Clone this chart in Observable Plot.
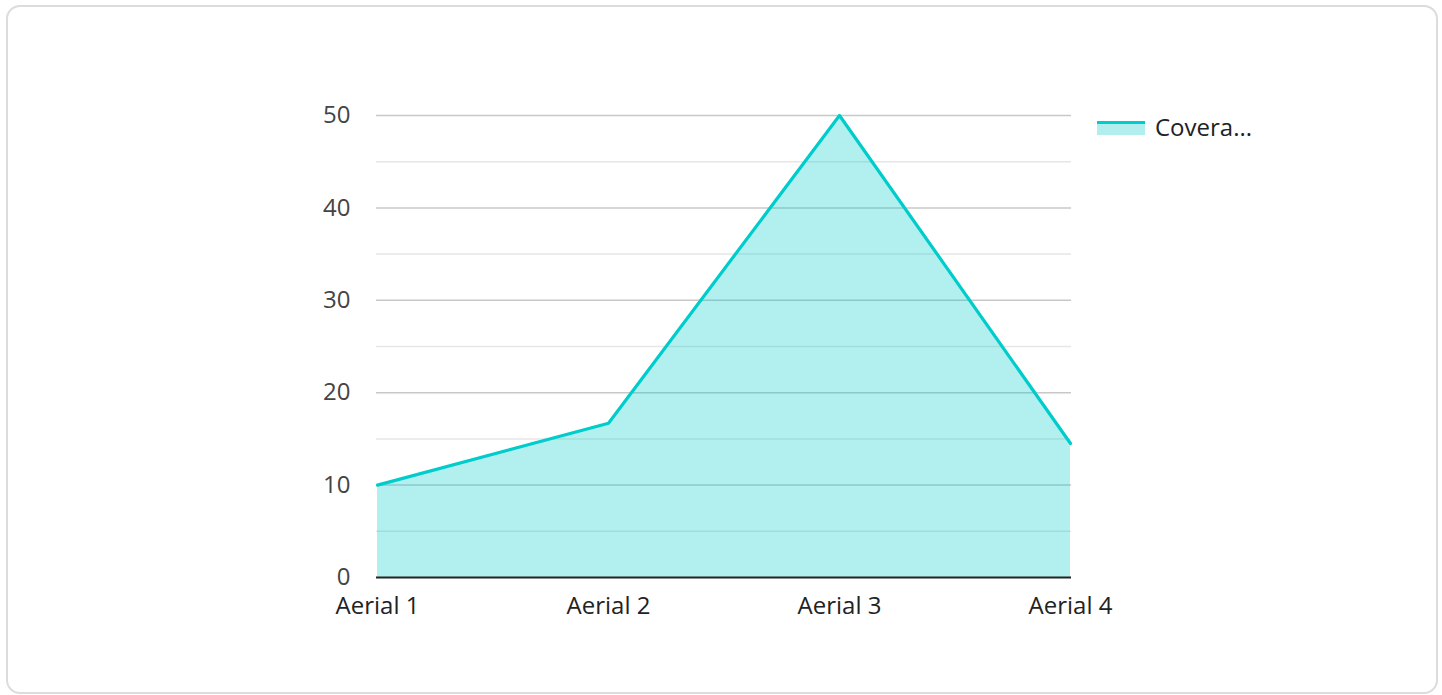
<!DOCTYPE html>
<html>
<head>
<meta charset="utf-8">
<script src="https://cdn.jsdelivr.net/npm/d3@7"></script>
<script src="https://cdn.jsdelivr.net/npm/@observablehq/plot@0.6"></script>
<style>
  html, body { margin: 0; padding: 0; background: #fff; width: 1442px; height: 695px; overflow: hidden; font-family: "Open Sans", sans-serif; }
  #card { position: absolute; left: 6px; top: 5px; width: 1428px; height: 685px; border: 2px solid #dcdcdc; border-radius: 14px; box-sizing: content-box; }
  #chart { position: absolute; left: 0; top: 0; }
  #legend { position: absolute; left: 1097px; top: 110px; display: flex; align-items: center; font-size: 24px; color: #222; }
  #legend .sw { width: 48px; height: 14px; position: relative; margin-right: 10px; margin-top: 2px; }
  #legend .sw .ln { position: absolute; left: 0; top: 0; width: 48px; height: 3px; background: #00cccc; }
  #legend .sw .fl { position: absolute; left: 0; top: 3px; width: 48px; height: 11px; background: #b2eeee; }
</style>
</head>
<body>
<div id="card"></div>
<div id="chart"></div>
<div id="legend"><div class="sw"><div class="ln"></div><div class="fl"></div></div><span>Covera...</span></div>
<script>
const categories = ["Aerial 1", "Aerial 2", "Aerial 3", "Aerial 4"];
const coverage = [10, 16.7, 50, 14.5];
const majorTicks = [0, 10, 20, 30, 40, 50];
const minorTicks = [5, 15, 25, 35, 45];

const data = categories.map((c, i) => ({cat: c, value: coverage[i]}));

const chart = Plot.plot({
  width: 1442,
  height: 695,
  marginLeft: 376,
  marginRight: 371,
  marginTop: 115,
  marginBottom: 118,
  style: {fontFamily: "Open Sans, sans-serif", fontSize: "24px", color: "#444", background: "transparent"},
  x: {type: "point", domain: categories, padding: 0, label: null},
  y: {domain: [0, 50], label: null},
  marks: [
    Plot.ruleY(minorTicks, {stroke: "#e6e6e6", strokeWidth: 1.5}),
    Plot.ruleY(majorTicks.filter(d => d > 0), {stroke: "#c8c8c8", strokeWidth: 1.5}),
    Plot.areaY(data, {x: "cat", y: "value", fill: "#00cccc", fillOpacity: 0.3}),
    Plot.lineY(data, {x: "cat", y: "value", stroke: "#00cccc", strokeWidth: 3.2}),
    Plot.ruleY([0], {stroke: "#222", strokeWidth: 2}),
    Plot.axisX({tickSize: 0, tickPadding: 19, fill: "#222", fontSize: 24}),
    Plot.axisY({ticks: majorTicks, tickSize: 0, tickPadding: 26, fill: "#444", fontSize: 24})
  ]
});
document.getElementById("chart").appendChild(chart);
</script>
</body>
</html>
